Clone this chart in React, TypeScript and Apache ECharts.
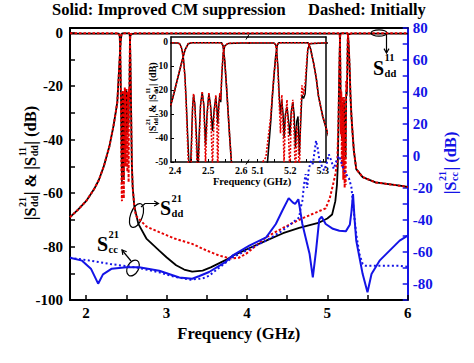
import React, { useEffect, useRef } from "react";
import * as echarts from "echarts";

const FONT = '"Liberation Serif", "Times New Roman", serif';
const BLUE = "#1414e6";
const RED = "#e60000";
const BLACK = "#000000";

// ---------- tick / label values ----------
const xMainLabels = [2, 3, 4, 5, 6];
const xMainTicks = [2, 2.5, 3, 3.5, 4, 4.5, 5, 5.5, 6];
const yLeftLabels = [-100, -80, -60, -40, -20, 0];
const yLeftTicks = [-100, -90, -80, -70, -60, -50, -40, -30, -20, -10, 0];
const yRightLabels = [-80, -60, -40, -20, 0, 20, 40, 60, 80];
const yRightTicks = [-90, -80, -70, -60, -50, -40, -30, -20, -10, 0, 10, 20, 30, 40, 50, 60, 70, 80];
const insetYLabels = [-50, -40, -30, -20, -10, 0];
const insetXLabelsA = [2.4, 2.5, 2.6];
const insetXTicksA = [2.4, 2.45, 2.5, 2.55, 2.6];
const insetXLabelsB = [5.1, 5.2, 5.3];
const insetXTicksB = [5.1, 5.15, 5.2, 5.25, 5.3];

// ---------- data: [frequency GHz, dB] ----------
const s21ddImproved: [number, number][] = [
  [1.8, -69], [1.9, -66.2], [2.0, -63], [2.1, -58.5], [2.16, -55], [2.22, -50], [2.29, -42.5], [2.34, -35], [2.37, -29.5], [2.388, -26],
  [2.4, -19.6], [2.41, -14], [2.42, -8.5], [2.43, -3.3], [2.44, -0.6], [2.45, -0.2], [2.54, -0.2], [2.545, -1.5], [2.55, -8], [2.555, -18],
  [2.56, -29], [2.565, -40], [2.57, -50], [2.58, -58], [2.6, -65], [2.65, -71.5], [2.75, -77], [2.91, -81.5], [3.0, -84], [3.12, -87],
  [3.22, -88.6], [3.32, -89.4], [3.45, -89], [3.55, -87.8], [3.74, -85], [3.82, -83.5], [4.0, -81], [4.24, -77.8], [4.45, -75], [4.65, -73],
  [4.9, -71], [5.0, -69.5], [5.06, -68], [5.1, -63], [5.12, -57], [5.13, -50], [5.14, -33], [5.145, -22.6], [5.15, -14], [5.155, -6],
  [5.16, -1.2], [5.165, -0.2], [5.255, -0.2], [5.262, -2.5], [5.272, -8.8], [5.28, -15], [5.287, -22.6], [5.3, -31], [5.312, -36.5], [5.33, -44],
  [5.36, -51], [5.44, -54], [5.6, -56], [5.9, -57.2], [6.0, -57.7],
];
const s21ddInitial: [number, number][] = [
  [1.8, -69], [1.9, -66.2], [2.0, -63], [2.1, -58.5], [2.16, -55], [2.22, -50], [2.29, -42.5], [2.34, -35], [2.37, -29.5], [2.388, -26],
  [2.4, -19.6], [2.41, -14], [2.42, -8.5], [2.43, -3.3], [2.44, -0.6], [2.45, -0.2], [2.54, -0.2], [2.545, -1.5], [2.55, -8], [2.555, -18],
  [2.56, -29], [2.565, -40], [2.57, -50], [2.58, -58], [2.6, -65], [2.62, -68.5], [2.75, -72.5], [2.91, -74.6], [3.1, -77], [3.32, -79],
  [3.5, -81.5], [3.66, -83.4], [3.8, -84.5], [3.9, -84.2], [4.0, -82.5], [4.1, -80], [4.24, -76.5], [4.45, -73], [4.65, -70], [4.8, -68],
  [4.98, -65.7], [5.03, -62], [5.07, -57], [5.1, -53], [5.125, -48], [5.14, -31], [5.15, -13], [5.16, -1], [5.165, -0.2], [5.255, -0.2],
  [5.262, -2.5], [5.272, -8.8], [5.28, -15], [5.287, -22.6], [5.3, -31], [5.312, -36.5], [5.33, -44], [5.36, -51], [5.44, -54], [5.6, -56],
  [5.9, -57.2], [6.0, -57.7],
];
const s11ddImproved: [number, number][] = [
  [1.8, -0.3], [2.41, -0.3], [2.415, -0.8], [2.42, -2.4], [2.425, -6], [2.43, -14], [2.434, -25], [2.438, -38], [2.442, -50], [2.446, -56],
  [2.45, -40], [2.453, -27], [2.456, -22], [2.46, -26], [2.465, -40], [2.469, -55], [2.473, -38], [2.477, -26], [2.482, -21], [2.487, -26],
  [2.492, -43], [2.497, -29], [2.502, -21.5], [2.507, -26], [2.513, -37], [2.518, -28], [2.523, -23], [2.526, -27], [2.529, -34], [2.532, -26],
  [2.535, -22], [2.538, -25], [2.541, -14], [2.545, -5], [2.55, -1.5], [2.56, -0.5], [2.6, -0.3],
  [5.15, -0.3], [5.155, -1], [5.158, -3], [5.162, -10], [5.166, -22], [5.17, -30], [5.174, -24], [5.178, -30], [5.181, -40], [5.185, -30],
  [5.19, -27], [5.195, -33], [5.199, -39], [5.203, -29], [5.208, -25], [5.212, -30], [5.216, -44], [5.22, -33], [5.224, -31], [5.228, -47],
  [5.232, -34], [5.236, -22], [5.241, -23.5], [5.246, -21.5], [5.25, -12], [5.254, -3], [5.26, -0.6], [5.3, -0.3], [6.0, -0.3],
];
const s11ddInitial: [number, number][] = [
  [1.8, -0.2], [2.41, -0.2], [2.415, -0.9], [2.42, -2.6], [2.425, -6.5], [2.43, -15], [2.434, -27], [2.438, -42], [2.442, -58], [2.446, -63],
  [2.45, -44], [2.453, -28], [2.456, -21.5], [2.46, -27], [2.465, -45], [2.469, -62], [2.473, -42], [2.477, -27], [2.482, -20.5], [2.487, -27],
  [2.492, -50], [2.497, -31], [2.502, -21], [2.507, -27], [2.513, -52], [2.518, -30], [2.523, -22], [2.526, -30], [2.529, -56], [2.532, -28],
  [2.535, -21], [2.538, -24], [2.541, -13], [2.545, -4.5], [2.55, -1.4], [2.56, -0.4], [2.6, -0.2],
  [5.15, -0.2], [5.155, -1.2], [5.158, -3.5], [5.162, -12], [5.166, -25], [5.17, -38], [5.174, -22], [5.178, -36], [5.181, -50], [5.185, -32],
  [5.19, -24], [5.195, -40], [5.199, -55], [5.203, -30], [5.208, -24], [5.212, -38], [5.216, -58], [5.22, -35], [5.224, -40], [5.228, -57],
  [5.232, -30], [5.236, -18], [5.241, -22], [5.246, -17], [5.25, -9], [5.254, -2.5], [5.26, -0.5], [5.3, -0.2], [6.0, -0.2],
];
// common-mode |S21| (right axis, dB)
const s21ccImproved: [number, number][] = [
  [1.8, -63.6], [1.95, -65.4], [2.06, -70.4], [2.15, -79.8], [2.21, -74], [2.32, -70.4], [2.5, -69.6], [2.66, -69.6], [2.91, -71.7], [3.16, -75.9],
  [3.32, -76.7], [3.41, -75], [3.53, -72.5], [3.66, -68.5], [3.74, -66], [3.82, -62.3], [4.03, -56], [4.24, -50.9], [4.36, -42.5], [4.44, -34.2],
  [4.52, -26.3], [4.57, -29], [4.6, -30], [4.64, -27], [4.66, -33], [4.69, -42.5], [4.73, -50.9], [4.78, -61.3], [4.82, -75.9], [4.86, -59.2],
  [4.9, -39.6], [4.93, -38], [4.98, -42.5], [5.07, -45.5], [5.15, -46.7], [5.23, -47.1], [5.28, -43], [5.3, -35], [5.32, -23.8], [5.34, -40],
  [5.36, -52.9], [5.44, -73.8], [5.5, -85.2], [5.55, -73.8], [5.65, -65.4], [5.9, -52.9], [6.0, -49.8],
];
const s21ccInitial: [number, number][] = [
  [1.8, -63.6], [2.0, -65], [2.3, -67.5], [2.62, -69.6], [2.91, -72.7], [3.1, -75.5], [3.3, -77.3], [3.45, -76.5], [3.53, -74.8], [3.74, -66.5],
  [3.82, -63.4], [4.24, -52.9], [4.44, -46.7], [4.65, -38.4], [4.67, -32], [4.69, -27.9], [4.71, -18], [4.73, -11.3], [4.75, -20], [4.77, -8],
  [4.8, -3], [4.82, -5], [4.84, 2], [4.86, 9.6], [4.88, 5], [4.9, -2], [4.93, -6], [4.96, -9], [4.99, -5], [5.02, 1],
  [5.05, -3], [5.08, -8], [5.12, -2], [5.15, 0], [5.18, -5], [5.2, -8], [5.23, -11], [5.27, -14], [5.3, -19.6], [5.33, -35],
  [5.36, -48.8], [5.4, -61.3], [5.44, -67.5], [5.48, -68.6], [5.9, -68.6], [6.0, -69.2],
];

// ---------- helpers ----------
let ctx: CanvasRenderingContext2D | null = null;
function measure(text: string, size: number): number {
  if (!ctx) ctx = document.createElement("canvas").getContext("2d");
  if (!ctx) return text.length * size * 0.5;
  ctx.font = `bold ${size}px "Liberation Serif"`;
  return ctx.measureText(text).width;
}

function txt(text: string, x: number, y: number, size: number, color: string, align = "left") {
  return {
    type: "text",
    x,
    y,
    style: { text, fontSize: size, fontWeight: "bold", fontFamily: FONT, fill: color, align, verticalAlign: "middle" },
  };
}

type Part = string | [string, string];
function mathText(parts: Part[], size: number, ss: number, color: string, supDy: number, subDy: number, center: boolean) {
  const children: any[] = [];
  let x = 0;
  for (const p of parts) {
    if (typeof p === "string") {
      children.push(txt(p, x, 0, size, color));
      x += measure(p, size);
    } else {
      const w = Math.max(measure(p[0], ss), measure(p[1], ss));
      children.push(txt(p[0], x + 0.5, supDy * size, ss, color));
      children.push(txt(p[1], x + 0.5, subDy * size, ss, color));
      x += w + 1;
    }
  }
  if (center) children.forEach((c) => (c.x -= x / 2));
  return children;
}

function arrowHead(tx: number, ty: number, fx: number, fy: number, len = 5) {
  const dx = fx - tx, dy = fy - ty;
  const d = Math.hypot(dx, dy) || 1;
  const ux = dx / d, uy = dy / d;
  const a = Math.PI / 6;
  const p1 = [tx + len * (ux * Math.cos(a) - uy * Math.sin(a)), ty + len * (ux * Math.sin(a) + uy * Math.cos(a))];
  const p2 = [tx + len * (ux * Math.cos(-a) - uy * Math.sin(-a)), ty + len * (ux * Math.sin(-a) + uy * Math.cos(-a))];
  return { type: "polyline", shape: { points: [p1, [tx, ty], p2] }, style: { stroke: BLACK, lineWidth: 1.2, fill: null } };
}

function seriesLine(data: [number, number][], xi: number, yi: number, color: string, type: any, width: number, z: number) {
  return {
    type: "line",
    data,
    xAxisIndex: xi,
    yAxisIndex: yi,
    showSymbol: false,
    symbol: "none",
    clip: true,
    silent: true,
    z,
    lineStyle: { color, width, type, cap: "butt" },
  };
}

const lbl = (size: number, color = BLACK, margin = 5) => ({
  fontSize: size,
  fontWeight: "bold",
  fontFamily: FONT,
  color,
  margin,
});

const frameAxis = (gridIndex: number, min: number, max: number, position: string, width: number) => ({
  type: "value", gridIndex, min, max, position,
  axisLine: { onZero: false, lineStyle: { color: BLACK, width } },
  axisTick: { show: false }, axisLabel: { show: false }, splitLine: { show: false },
});

export default function App() {
  const ref = useRef<HTMLDivElement>(null);
  useEffect(() => {
    if (!ref.current) return;
    const chart = echarts.init(ref.current, null, { renderer: "svg" });
    const RED_DOT = [2.5, 2];
    const BLUE_DOT = [2, 2.5];

    const option: any = {
      animation: false,
      backgroundColor: "#ffffff",
      grid: [
        { left: 70, top: 28, width: 337.7, height: 272 },
        { left: 171, top: 37, width: 77, height: 125 },
        { left: 248, top: 37, width: 78, height: 125 },
      ],
      xAxis: [
        {
          type: "value", gridIndex: 0, min: 1.8, max: 6, position: "bottom",
          axisLine: { onZero: false, lineStyle: { color: BLACK, width: 2 } },
          axisTick: { inside: true, length: 5, customValues: xMainTicks, lineStyle: { color: BLACK, width: 1.5 } },
          axisLabel: { customValues: xMainLabels, ...lbl(15, BLACK, 5) },
          splitLine: { show: false },
          name: "Frequency (GHz)", nameLocation: "middle", nameGap: 23,
          nameTextStyle: { fontSize: 16.5, fontWeight: "bold", fontFamily: FONT, color: BLACK },
        },
        frameAxis(0, 1.8, 6, "top", 2),
        {
          type: "value", gridIndex: 1, min: 2.388, max: 2.62, position: "bottom",
          axisLine: { onZero: false, lineStyle: { color: BLACK, width: 1.5 } },
          axisTick: { inside: true, length: 3, customValues: insetXTicksA, lineStyle: { color: BLACK } },
          axisLabel: { customValues: insetXLabelsA, ...lbl(10, BLACK, 3) },
          splitLine: { show: false },
        },
        frameAxis(1, 2.388, 2.62, "top", 1.5),
        {
          type: "value", gridIndex: 2, min: 5.07, max: 5.31, position: "bottom",
          axisLine: { onZero: false, lineStyle: { color: BLACK, width: 1.5 } },
          axisTick: { inside: true, length: 3, customValues: insetXTicksB, lineStyle: { color: BLACK } },
          axisLabel: { customValues: insetXLabelsB, ...lbl(10, BLACK, 3) },
          splitLine: { show: false },
        },
        frameAxis(2, 5.07, 5.31, "top", 1.5),
      ],
      yAxis: [
        {
          type: "value", gridIndex: 0, min: -100, max: 1.8, position: "left",
          axisLine: { show: true, onZero: false, lineStyle: { color: BLACK, width: 2 } },
          axisTick: { show: true, inside: true, length: 5, customValues: yLeftTicks, lineStyle: { color: BLACK, width: 1.5 } },
          axisLabel: { customValues: yLeftLabels, ...lbl(15, BLACK, 7) },
          splitLine: { show: false },
        },
        {
          type: "value", gridIndex: 0, min: -90, max: 80, position: "right",
          axisLine: { show: true, onZero: false, lineStyle: { color: BLUE, width: 2 } },
          axisTick: { show: true, inside: true, length: 5, customValues: yRightTicks, lineStyle: { color: BLUE, width: 1.5 } },
          axisLabel: { customValues: yRightLabels, ...lbl(15, BLUE, 5) },
          splitLine: { show: false },
        },
        {
          type: "value", gridIndex: 1, min: -50, max: 2.2, position: "left",
          axisLine: { show: true, onZero: false, lineStyle: { color: BLACK, width: 1.5 } },
          axisTick: { show: true, inside: true, length: 3, customValues: insetYLabels, lineStyle: { color: BLACK } },
          axisLabel: { customValues: insetYLabels, ...lbl(9.5, BLACK, 3) },
          splitLine: { show: false },
        },
        {
          type: "value", gridIndex: 2, min: -50, max: 2.2, position: "right",
          axisLine: { show: true, onZero: false, lineStyle: { color: BLACK, width: 1.5 } },
          axisTick: { show: false }, axisLabel: { show: false }, splitLine: { show: false },
        },
      ],
      series: [
        seriesLine(s11ddImproved, 0, 0, BLACK, "solid", 1.6, 2),
        seriesLine(s21ddImproved, 0, 0, BLACK, "solid", 1.8, 2),
        seriesLine(s11ddInitial, 0, 0, RED, RED_DOT, 2, 3),
        seriesLine(s21ddInitial, 0, 0, RED, RED_DOT, 2, 3),
        seriesLine(s21ccImproved, 0, 1, BLUE, "solid", 2, 4),
        seriesLine(s21ccInitial, 0, 1, BLUE, BLUE_DOT, 2, 4),
        seriesLine(s11ddImproved, 2, 2, BLACK, "solid", 1.4, 5),
        seriesLine(s21ddImproved, 2, 2, BLACK, "solid", 1.6, 5),
        seriesLine(s11ddInitial, 2, 2, RED, [2, 1.5], 1.6, 6),
        seriesLine(s21ddInitial, 2, 2, RED, [2, 1.5], 1.6, 6),
        seriesLine(s11ddImproved, 4, 3, BLACK, "solid", 1.4, 5),
        seriesLine(s21ddImproved, 4, 3, BLACK, "solid", 1.6, 5),
        seriesLine(s11ddInitial, 4, 3, RED, [2, 1.5], 1.6, 6),
        seriesLine(s21ddInitial, 4, 3, RED, [2, 1.5], 1.6, 6),
      ],
      graphic: [
        txt("Solid: Improved CM suppression", 52, 9.5, 16.5, BLACK),
        txt("Dashed: Initially", 308, 9.5, 16.5, BLACK),
        {
          type: "group", x: 30, y: 163, rotation: Math.PI / 2,
          children: mathText(["|S", ["21", "dd"], "| & |S", ["11", "dd"], "| (dB)"], 16.5, 10, BLACK, -0.45, 0.28, true),
        },
        {
          type: "group", x: 450, y: 163, rotation: Math.PI / 2,
          children: mathText(["|S", ["21", "cc"], "| (dB)"], 16.5, 10, BLUE, -0.45, 0.28, true),
        },
        {
          type: "group", x: 152, y: 98, rotation: Math.PI / 2,
          children: mathText(["|S", ["21", "dd"], "| & |S", ["11", "dd"], "| (dB)"], 10, 6.5, BLACK, -0.45, 0.3, true),
        },
        txt("Frequency (GHz)", 252, 181, 10.5, BLACK, "center"),
        // break marks on inset axis
        { type: "line", shape: { x1: 246, y1: 39.5, x2: 249, y2: 34.5 }, style: { stroke: BLACK, lineWidth: 1 } },
        { type: "line", shape: { x1: 246, y1: 164.5, x2: 249, y2: 159.5 }, style: { stroke: BLACK, lineWidth: 1 } },
        // S11dd annotation
        { type: "group", x: 373, y: 68, children: mathText(["S", ["11", "dd"]], 20, 10.5, BLACK, -0.55, 0.25, false) },
        { type: "ellipse", shape: { cx: 379, cy: 33, rx: 8, ry: 3.2 }, style: { stroke: BLACK, lineWidth: 1.2, fill: null } },
        { type: "line", shape: { x1: 386.5, y1: 34, x2: 386.5, y2: 53 }, style: { stroke: BLACK, lineWidth: 1.2 } },
        arrowHead(386.5, 53, 386.5, 40),
        // S21dd annotation
        { type: "group", x: 160, y: 208, children: mathText(["S", ["21", "dd"]], 20, 10.5, BLACK, -0.5, 0.25, false) },
        { type: "ellipse", x: 136.5, y: 215.5, rotation: -0.35, shape: { cx: 0, cy: 0, rx: 6, ry: 12.5 }, style: { stroke: BLACK, lineWidth: 1.2, fill: null } },
        { type: "polyline", shape: { points: [[141, 207], [145, 203.5], [158, 203.5]] }, style: { stroke: BLACK, lineWidth: 1.2, fill: null } },
        arrowHead(158.5, 203.5, 150, 203.5),
        // S21cc annotation
        { type: "group", x: 97, y: 244, children: mathText(["S", ["21", "cc"]], 20, 10.5, BLACK, -0.5, 0.25, false) },
        { type: "ellipse", x: 133, y: 268, rotation: -0.5, shape: { cx: 0, cy: 0, rx: 5.5, ry: 8.5 }, style: { stroke: BLACK, lineWidth: 1.2, fill: null } },
        { type: "line", shape: { x1: 131, y1: 261, x2: 122, y2: 250 }, style: { stroke: BLACK, lineWidth: 1.2 } },
        arrowHead(122, 250, 131, 261),
      ],
    };
    chart.setOption(option);
    return () => chart.dispose();
  }, []);
  return <div ref={ref} style={{ position: "fixed", left: 0, top: 0, width: 474, height: 363 }} />;
}
